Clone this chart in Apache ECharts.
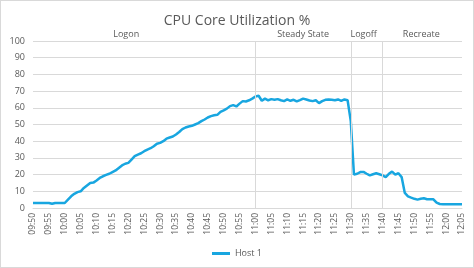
<!DOCTYPE html>
<html>
<head>
<meta charset="utf-8">
<script src="https://cdn.jsdelivr.net/npm/echarts@6/dist/echarts.min.js"></script>
<style>
  html, body { margin: 0; padding: 0; background: #fff; }
  #chart { width: 472px; height: 266px; border: 1px solid #d9d9d9; }
</style>
</head>
<body>
<div id="chart"></div>
<script>
// one sample per minute, 09:50 .. 12:05
const startMinute = 9 * 60 + 50
const host1 = [
  3, 3, 3, 3, 3, 3, 2.5, 3, 3, 3,
  3, 5, 7, 8.5, 9.5, 10, 12, 13.5, 15, 15.2,
  16.5, 18, 19, 19.8, 20.5, 21.5, 22.5, 24, 25.5, 26.5,
  27, 29, 31, 32, 32.8, 34, 35, 35.8, 37, 38.5,
  39, 40, 41.5, 42.2, 42.8, 44, 45.5, 47.2, 48.2, 48.8,
  49.2, 50, 50.8, 52, 53, 54.2, 55, 55.5, 55.8, 57.6,
  58.5, 59.5, 61, 61.6, 60.8, 62.5, 64, 63.8, 64.5, 65.5,
  66.8, 67.2, 64.2, 65.5, 64.5, 65.2, 64.8, 65.2, 64.5, 64,
  65, 64.2, 64.8, 63.8, 64.6, 65.5, 65, 64.4, 64, 64.5,
  62.8, 64, 64.8, 65, 64.8, 64.5, 65, 64.2, 65, 64.5,
  52, 20, 20.5, 21.5, 21.6, 20.5, 19.5, 20.2, 20.8, 20.2,
  19.5, 18.5, 20.5, 21.8, 20, 20.8, 18.5, 9, 7, 6.2,
  5.5, 5, 5.5, 5.8, 5.2, 5.3, 5.2, 3.2, 2.4, 2.3,
  2.3, 2.3, 2.3, 2.3, 2.3, 2.3
]
const times = host1.map(function (v, i) {
  const t = startMinute + i
  const h = Math.floor(t / 60)
  const m = t % 60
  return (h < 10 ? '0' : '') + h + ':' + (m < 10 ? '0' : '') + m
})

const phaseNames = ['Logon', 'Steady State', 'Logoff', 'Recreate']
const phaseStarts = ['09:50', '11:00', '11:30', '11:40']
const phaseEnds = ['11:00', '11:30', '11:40', '12:05']
const phaseLabelShift = [-18, 0, -3, -1]
const dividers = ['11:00', '11:30', '11:40']

const chart = echarts.init(document.getElementById('chart'))
const textColor = '#595959'
const font = '"Open Sans", "Noto Sans", sans-serif'

chart.setOption({
  animation: false,
  title: {
    text: 'CPU Core Utilization %',
    left: 'center',
    top: 8,
    textStyle: { color: textColor, fontSize: 14, fontWeight: 'normal', fontFamily: font }
  },
  legend: {
    bottom: 4,
    left: 'center',
    itemWidth: 18,
    itemHeight: 3,
    itemGap: 4,
    icon: 'rect',
    textStyle: { color: textColor, fontSize: 9, fontFamily: font },
    data: ['Host 1']
  },
  grid: { left: 32, right: 11, top: 40, bottom: 59 },
  xAxis: {
    type: 'category',
    data: times,
    boundaryGap: false,
    axisLine: { lineStyle: { color: '#d9d9d9' } },
    axisTick: { show: false },
    axisLabel: {
      interval: 4,
      rotate: 90,
      color: textColor,
      fontSize: 8.5,
      fontFamily: font,
      margin: 5
    },
    splitLine: { show: false }
  },
  yAxis: {
    type: 'value',
    min: 0,
    max: 100,
    interval: 10,
    axisLine: { show: false },
    axisTick: { show: false },
    axisLabel: { color: textColor, fontSize: 9, fontFamily: font, margin: 8 },
    splitLine: { lineStyle: { color: '#d9d9d9' } }
  },
  series: [
    {
      name: 'Host 1',
      type: 'line',
      data: host1,
      symbol: 'none',
      color: '#18a6e0',
      lineStyle: { width: 2.5, color: '#18a6e0' },
      markLine: {
        silent: true,
        symbol: 'none',
        label: { show: false },
        lineStyle: { color: '#d9d9d9', type: 'solid', width: 1 },
        data: dividers.map(function (d) { return { xAxis: d } })
      },
      markArea: {
        silent: true,
        itemStyle: { color: 'rgba(0,0,0,0)' },
        label: {
          position: 'top',
          distance: 2,
          color: textColor,
          fontSize: 9,
          fontFamily: font
        },
        data: phaseNames.map(function (n, i) {
          return [
            { name: n, xAxis: phaseStarts[i], yAxis: 0, label: { offset: [phaseLabelShift[i], 0] } },
            { xAxis: phaseEnds[i], yAxis: 100 }
          ]
        })
      }
    }
  ]
})
</script>
</body>
</html>
